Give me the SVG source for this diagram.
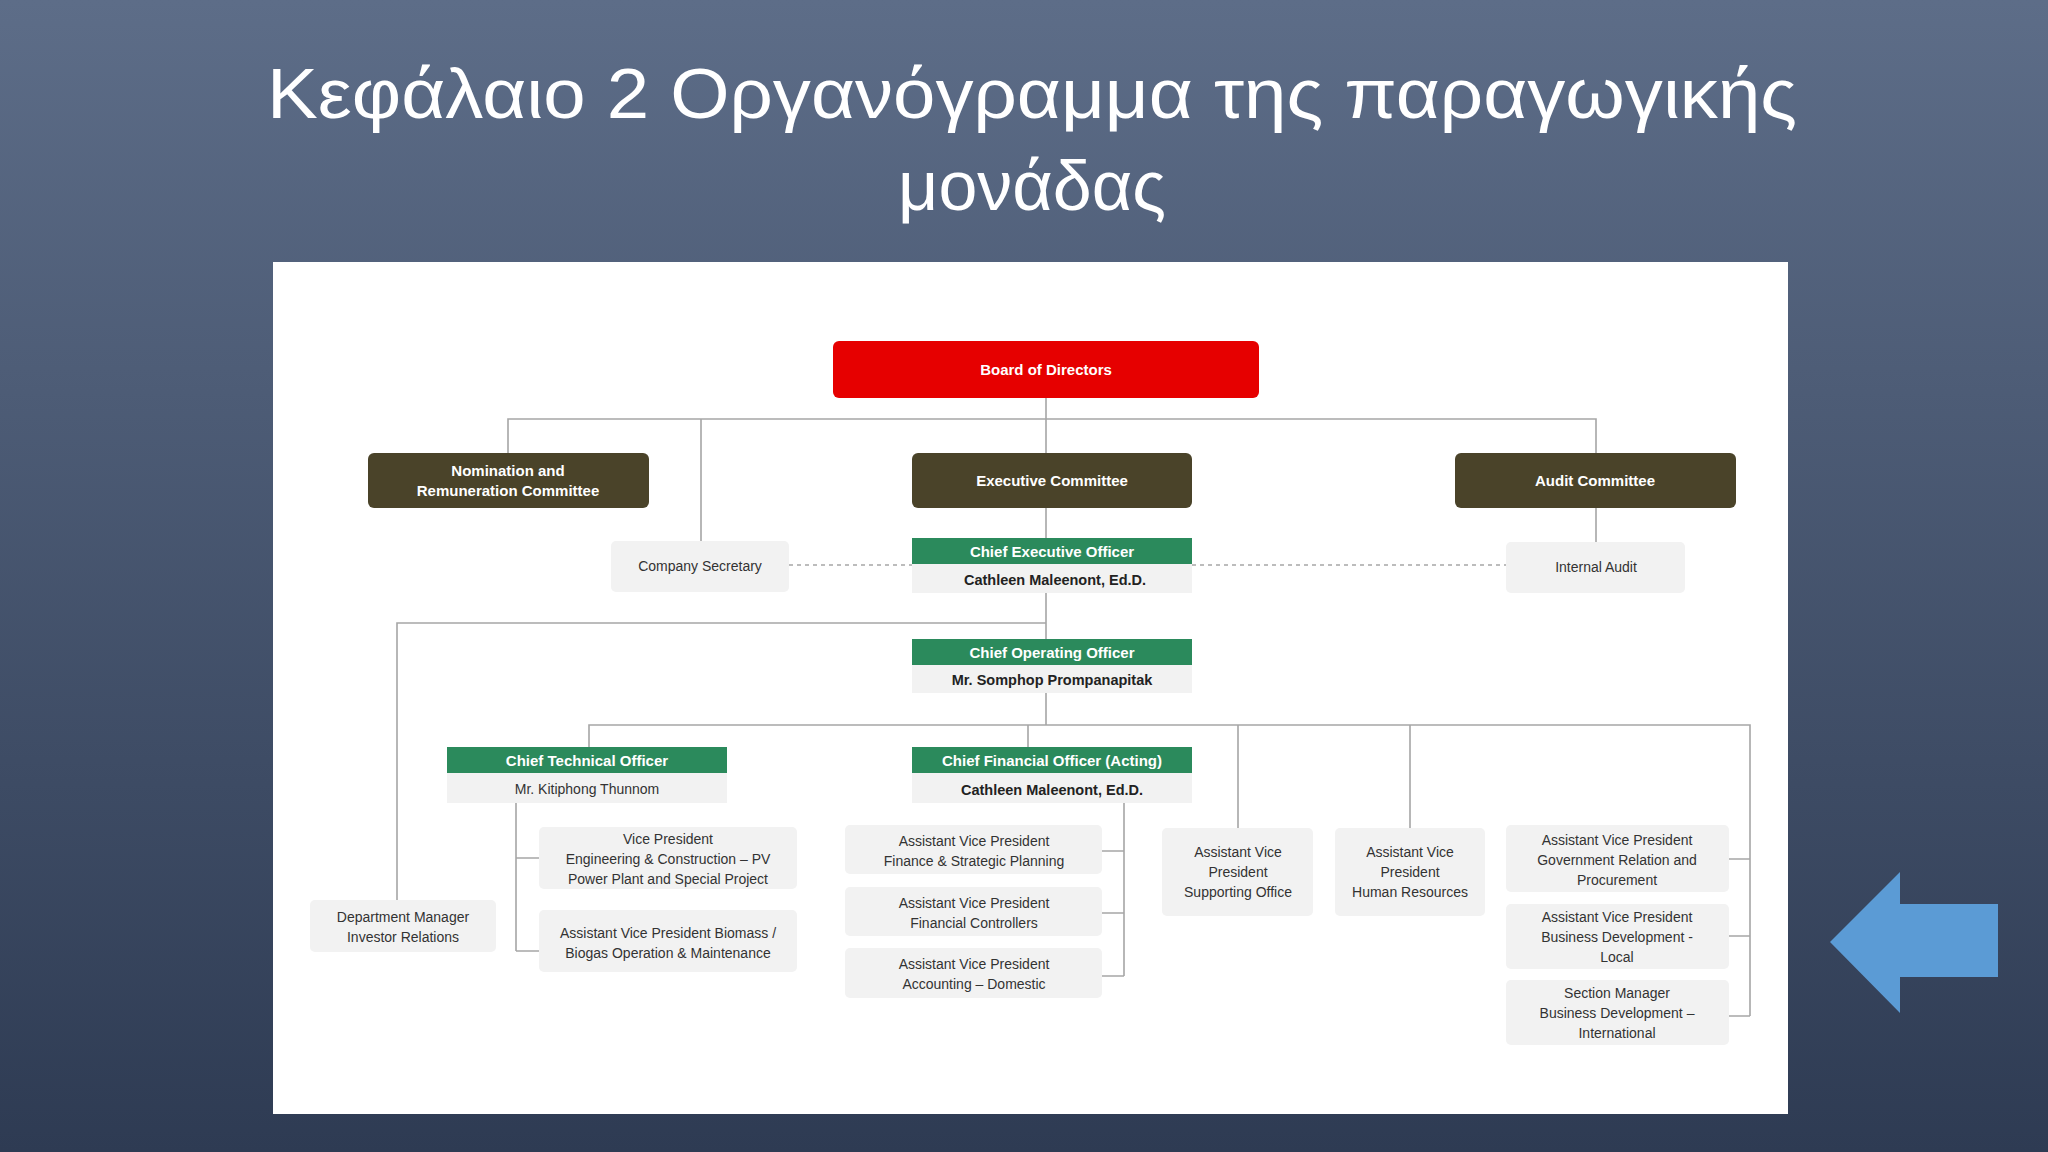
<svg xmlns="http://www.w3.org/2000/svg" width="2048" height="1152" viewBox="0 0 2048 1152">
<defs>
<linearGradient id="bg" x1="0" y1="0" x2="0" y2="1">
<stop offset="0" stop-color="#5d6d88"/><stop offset="1" stop-color="#2e3b53"/>
</linearGradient>
<style>
.t{font-family:"Liberation Sans",Arial,sans-serif;text-anchor:middle}
.w{fill:#fff;font-weight:bold;font-size:15px}
.d{fill:#333;font-size:14px}
.db{fill:#222;font-size:14.5px;font-weight:bold}
.gr{fill:#f2f2f2}
.gn{fill:#2b8a5c}
.ol{fill:#4a4329}
.c{stroke:#a6a6a6;stroke-width:1.6;fill:none}
</style>
</defs>
<rect width="2048" height="1152" fill="url(#bg)"/>
<text class="t" x="1032" y="118" font-size="70" fill="#fff" textLength="1530" lengthAdjust="spacingAndGlyphs">Κεφάλαιο 2 Οργανόγραμμα της παραγωγικής</text>
<text class="t" x="1032" y="210" font-size="70" fill="#fff">μονάδας</text>
<rect x="273" y="262" width="1515" height="852" fill="#fff"/>
<g id="connectors">
<path class="c" d="M1046 398V453M508 453V419H1596V453M701 419V541M1046 508V538M1596 508V542"/>
<path class="c" stroke-dasharray="4 4" d="M789 565H912M1192 565H1506"/>
<path class="c" d="M1046 593V639M397 900V623H1046"/>
<path class="c" d="M1046 693V725M589 747V725H1750V1016M1028 725V747M1238 725V828M1410 725V828M1729 859H1750M1729 936H1750M1729 1016H1750"/>
<path class="c" d="M516 803V951M516 858H539M516 951H539"/>
<path class="c" d="M1124 803V976M1102 851H1124M1102 913H1124M1102 976H1124"/>
</g>
<g id="board"><rect x="833" y="341" width="426" height="57" rx="6" fill="#e60000"/><text class="t w" x="1046" y="375" font-size="19">Board of Directors</text></g>
<g id="nomination"><rect class="ol" x="368" y="453" width="281" height="55" rx="6"/><text class="t w" x="508" y="476">Nomination and</text><text class="t w" x="508" y="496">Remuneration Committee</text></g>
<g id="executive"><rect class="ol" x="912" y="453" width="280" height="55" rx="6"/><text class="t w" x="1052" y="486">Executive Committee</text></g>
<g id="audit"><rect class="ol" x="1455" y="453" width="281" height="55" rx="6"/><text class="t w" x="1595" y="486">Audit Committee</text></g>
<g id="secretary"><rect class="gr" x="611" y="541" width="178" height="51" rx="5"/><text class="t d" x="700" y="571">Company Secretary</text></g>
<g id="ceo"><rect class="gr" x="912" y="560" width="280" height="33"/><rect class="gn" x="912" y="538" width="280" height="26"/><text class="t w" x="1052" y="557" font-weight="normal">Chief Executive Officer</text><text class="t db" x="1055" y="585">Cathleen Maleenont, Ed.D.</text></g>
<g id="internal-audit"><rect class="gr" x="1506" y="542" width="179" height="51" rx="5"/><text class="t d" x="1596" y="572">Internal Audit</text></g>
<g id="coo"><rect class="gr" x="912" y="661" width="280" height="32"/><rect class="gn" x="912" y="639" width="280" height="26"/><text class="t w" x="1052" y="658" font-weight="normal">Chief Operating Officer</text><text class="t db" x="1052" y="685">Mr. Somphop Prompanapitak</text></g>
<g id="cto"><rect class="gr" x="447" y="769" width="280" height="34"/><rect class="gn" x="447" y="747" width="280" height="26"/><text class="t w" x="587" y="766" font-weight="normal">Chief Technical Officer</text><text class="t d" x="587" y="794">Mr. Kitiphong  Thunnom</text></g>
<g id="cfo"><rect class="gr" x="912" y="769" width="280" height="34"/><rect class="gn" x="912" y="747" width="280" height="26"/><text class="t w" x="1052" y="766" font-weight="normal">Chief Financial Officer (Acting)</text><text class="t db" x="1052" y="795">Cathleen Maleenont, Ed.D.</text></g>
<g id="vp-eng"><rect class="gr" x="539" y="827" width="258" height="62" rx="5"/><text class="t d" x="668" y="844">Vice President</text><text class="t d" x="668" y="864">Engineering &amp; Construction – PV</text><text class="t d" x="668" y="884">Power Plant and Special Project</text></g>
<g id="avp-biomass"><rect class="gr" x="539" y="910" width="258" height="62" rx="5"/><text class="t d" x="668" y="938">Assistant Vice President Biomass /</text><text class="t d" x="668" y="958">Biogas Operation &amp; Maintenance</text></g>
<g id="dept-mgr"><rect class="gr" x="310" y="900" width="186" height="52" rx="5"/><text class="t d" x="403" y="922">Department Manager</text><text class="t d" x="403" y="942">Investor Relations</text></g>
<g id="avp-finance"><rect class="gr" x="845" y="825" width="257" height="49" rx="5"/><text class="t d" x="974" y="846">Assistant Vice President</text><text class="t d" x="974" y="866">Finance &amp; Strategic Planning</text></g>
<g id="avp-fincontrol"><rect class="gr" x="845" y="887" width="257" height="49" rx="5"/><text class="t d" x="974" y="908">Assistant Vice President</text><text class="t d" x="974" y="928">Financial Controllers</text></g>
<g id="avp-accounting"><rect class="gr" x="845" y="948" width="257" height="50" rx="5"/><text class="t d" x="974" y="969">Assistant Vice President</text><text class="t d" x="974" y="989">Accounting – Domestic</text></g>
<g id="avp-supporting"><rect class="gr" x="1162" y="828" width="151" height="88" rx="5"/><text class="t d" x="1238" y="857">Assistant Vice</text><text class="t d" x="1238" y="877">President</text><text class="t d" x="1238" y="897">Supporting  Office</text></g>
<g id="avp-hr"><rect class="gr" x="1335" y="828" width="150" height="88" rx="5"/><text class="t d" x="1410" y="857">Assistant Vice</text><text class="t d" x="1410" y="877">President</text><text class="t d" x="1410" y="897">Human Resources</text></g>
<g id="avp-gov"><rect class="gr" x="1506" y="825" width="223" height="67" rx="5"/><text class="t d" x="1617" y="845">Assistant Vice President</text><text class="t d" x="1617" y="865">Government Relation and</text><text class="t d" x="1617" y="885">Procurement</text></g>
<g id="avp-bizdev"><rect class="gr" x="1506" y="904" width="223" height="65" rx="5"/><text class="t d" x="1617" y="922">Assistant Vice President</text><text class="t d" x="1617" y="942">Business Development -</text><text class="t d" x="1617" y="962">Local</text></g>
<g id="sm-bizdev"><rect class="gr" x="1506" y="980" width="223" height="65" rx="5"/><text class="t d" x="1617" y="998">Section Manager</text><text class="t d" x="1617" y="1018">Business Development –</text><text class="t d" x="1617" y="1038">International</text></g>
<polygon points="1830,942 1900,872 1900,904 1998,904 1998,977 1900,977 1900,1013" fill="#5b9bd5"/>
</svg>
